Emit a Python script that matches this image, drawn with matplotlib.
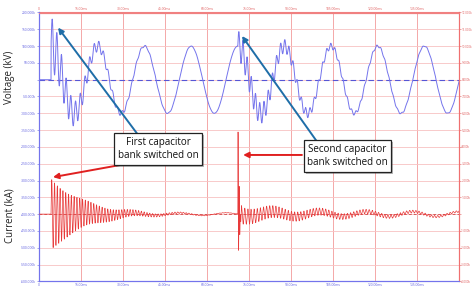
import numpy as np
import matplotlib.pyplot as plt
import matplotlib.patheffects as pe

# values (time in ms, voltage in kV, current in kA)
switch_ms = [4.3, 71.0]            # capacitor bank 1 and 2 switched on
line_hz = 60
v_steady_kv = 100
i_steady_ka = [0.08, 0.15]         # 60 Hz bank current after each switching
v_burst_kv = [85, 45]              # voltage ringing amplitude
v_burst_hz = [600, 670]
v_burst_tau = [10, 20]
i_burst_ka = [2.1, 0.5]            # current ringing amplitude
i_burst_hz = [1000, 900]
i_burst_tau = [12, 35]
i_spike_ka = 6.1                   # inrush spike of second bank
i_spike_hz = 2500
i_spike_tau = 0.35

x_ticks = [0, 15, 30, 45, 60, 75, 90, 105, 120, 135]
x_labels = ["0"] + ["%.2fms" % x for x in x_ticks[1:]]
v_ticks = list(range(-600, 201, 50))
v_labels = ["" if v == 0 else "%.3fk" % v for v in v_ticks]
i_ticks = list(range(-4, 13))
i_labels = ["" if i == 0 else "%.3fk" % i for i in i_ticks]

t = np.arange(0, 150, 0.01)
v = np.zeros_like(t)
cur = np.zeros_like(t)
on = t >= switch_ms[0]
v[on] = v_steady_kv * np.cos(2 * np.pi * line_hz * (t[on] - switch_ms[0]) / 1000)
for k, ts in enumerate(switch_ms):
    m = t >= ts
    tau = t[m] - ts
    v[m] += v_burst_kv[k] * np.exp(-tau / v_burst_tau[k]) * np.sin(2 * np.pi * v_burst_hz[k] * tau / 1000)
    cur[m] += i_burst_ka[k] * np.exp(-tau / i_burst_tau[k]) * np.sin(2 * np.pi * i_burst_hz[k] * tau / 1000)
m1 = (t >= switch_ms[0]) & (t < switch_ms[1])
cur[m1] += -i_steady_ka[0] * np.sin(2 * np.pi * line_hz * (t[m1] - switch_ms[0]) / 1000)
m2 = t >= switch_ms[1]
tau2 = t[m2] - switch_ms[1]
cur[m2] += -i_steady_ka[1] * np.sin(2 * np.pi * line_hz * (t[m2] - switch_ms[0]) / 1000)
cur[m2] += i_spike_ka * np.exp(-tau2 / i_spike_tau) * np.sin(2 * np.pi * i_spike_hz * tau2 / 1000)

blue = "#7474ec"
red = "#e83a3a"
plt.rcParams['font.family'] = ['Open Sans', 'DejaVu Sans']

fig = plt.figure(figsize=(4.74, 2.92), dpi=100)
ax = fig.add_axes([39 / 474, 1 - 281.3 / 292, 420 / 474, 268.8 / 292])
ax2 = ax.twinx()

ax.set_xlim(0, 150)
ax.set_ylim(-600, 200)
ax2.set_ylim(-4, 12)
ax.set_xticks(x_ticks)
ax.set_xticklabels(x_labels)
ax.set_yticks(v_ticks)
ax.set_yticklabels(v_labels)
ax2.set_yticks(i_ticks)
ax2.set_yticklabels(i_labels)

ax.grid(axis='x', color="#f29a9a", lw=0.6)
ax.grid(axis='y', color="#f7c2c2", lw=0.6)
ax.axhline(0, color="#5656d6", lw=0.8, dashes=(5, 3), zorder=2)
ax2.axhline(0, color="#c83030", lw=0.5, dashes=(4, 3), zorder=2)
ax.plot(t, v, color=blue, lw=0.7, zorder=3)
ax2.plot(t, cur, color=red, lw=0.5, zorder=3)

top = ax.secondary_xaxis('top')
top.set_xticks(x_ticks)
top.set_xticklabels(x_labels)
top.tick_params(colors="#e06060", labelsize=2.4, length=0, pad=1)
ax.tick_params(axis='x', colors="#6060e0", labelsize=2.4, length=0, pad=1)
ax.tick_params(axis='y', colors="#6060e0", labelsize=2.4, length=1.5, width=0.4, pad=0.8)
ax2.tick_params(axis='y', colors="#e06060", labelsize=2.2, length=1.2, width=0.4, pad=0.5)
for a in (ax, ax2):
    a.spines['left'].set_color(blue)
    a.spines['bottom'].set_color(blue)
    a.spines['top'].set_color("#f08080")
    a.spines['right'].set_color("#f07070")
    for s in a.spines.values():
        s.set_linewidth(0.8)
top.spines['top'].set_color("#f08080")

fig.text(10 / 474, 1 - 77 / 292, "Voltage (kV)", rotation=90, ha='center', va='center', fontsize=7, color="#222222")
fig.text(10 / 474, 1 - 216 / 292, "Current (kA)", rotation=90, ha='center', va='center', fontsize=7, color="#222222")

arrow_blue = dict(arrowstyle='-|>', color="#1f6ea8", lw=1.4, mutation_scale=8, shrinkA=0, shrinkB=0)
arrow_red = dict(arrowstyle='-|>', color="#e02020", lw=1.4, mutation_scale=8, shrinkA=0, shrinkB=0)
ax.annotate("", xy=(6.8, 155), xytext=(35, -160), arrowprops=arrow_blue, zorder=5)
ax.annotate("", xy=(72.5, 130), xytext=(99.6, -188), arrowprops=arrow_blue, zorder=5)
ax2.annotate("", xy=(5.0, 2.2), xytext=(28.9, 2.92), arrowprops=arrow_red, zorder=5)
ax2.annotate("", xy=(72.9, 3.52), xytext=(93.9, 3.52), arrowprops=arrow_red, zorder=5)

box = dict(boxstyle='square,pad=0.35', fc='white', ec="#222222", lw=0.9)
for x, y, s in [(158, 149, "First capacitor\nbank switched on"),
                (347.5, 156, "Second capacitor\nbank switched on")]:
    txt = fig.text(x / 474, 1 - y / 292, s, ha='center', va='center', fontsize=7.1,
                   color="#111111", bbox=box, zorder=10, linespacing=1.35)
    txt.get_bbox_patch().set_path_effects([pe.SimplePatchShadow(offset=(1.5, -1.5), alpha=0.4), pe.Normal()])

fig.savefig("out.png", dpi=100)
